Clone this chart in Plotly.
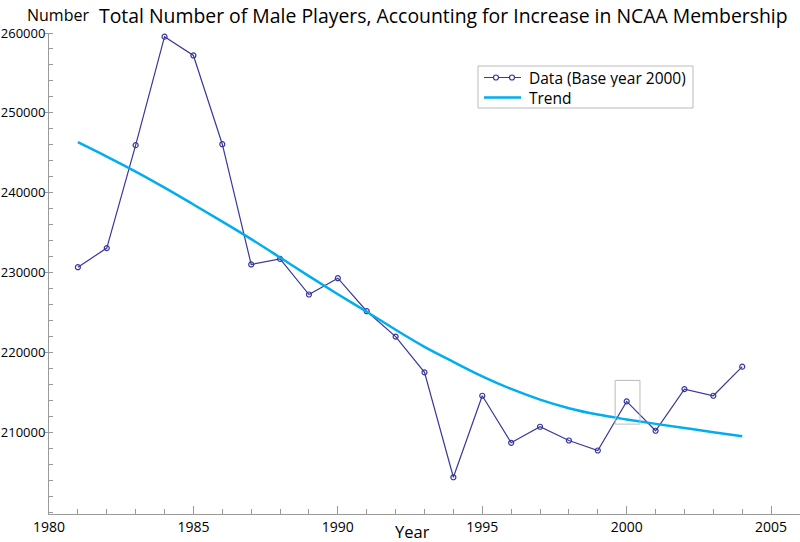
import plotly.graph_objects as go

years = list(range(1981, 2005))
data_values = [230690, 233080, 245960, 259540, 257190, 246080, 231030, 231730,
               227270, 229310, 225180, 222000, 217530, 204400, 214600, 208710,
               210720, 209000, 207750, 213890, 210220, 215430, 214600, 218240]
trend_values = [246340, 244540, 242660, 240650, 238540, 236390, 234200, 231900,
                229570, 227310, 225110, 222860, 220720, 218840, 217030, 215450,
                214120, 213040, 212240, 211630, 211080, 210560, 210040, 209540]
x_ticks = [1980, 1985, 1990, 1995, 2000, 2005]
y_ticks = [210000, 220000, 230000, 240000, 250000, 260000]
series_names = ["Data (Base year 2000)", "Trend"]

FONT = "Open Sans"
DATA_COLOR = "#38389a"
TREND_COLOR = "#00aeef"
AXIS_COLOR = "#9a9a9a"

# plot-area geometry in pixels (for placing the legend box)
L, T, W, H = 49, 33, 751, 481
def px(x):
    return (x - L) / W
def py(y):
    return (T + H - y) / H

fig = go.Figure()
fig.add_trace(go.Scatter(
    x=years, y=data_values, mode="lines+markers", name=series_names[0],
    line=dict(color=DATA_COLOR, width=1.2),
    marker=dict(symbol="circle-open", size=5, color=DATA_COLOR, line=dict(width=1.2)),
    showlegend=False,
))
fig.add_trace(go.Scatter(
    x=years, y=trend_values, mode="lines", name=series_names[1],
    line=dict(color=TREND_COLOR, width=2.5, shape="spline"),
    showlegend=False,
))

shapes = [
    dict(type="rect", x0=1999.6, x1=2000.46, y0=211050, y1=216520,
         line=dict(color="#bbbbbb", width=1), xref="x", yref="y"),
    # legend box
    dict(type="rect", xref="paper", yref="paper", x0=px(478), x1=px(693),
         y0=py(108), y1=py(66), line=dict(color="#bbbbbb", width=1),
         fillcolor="white", layer="above"),
    dict(type="line", xref="paper", yref="paper", x0=px(484), x1=px(521),
         y0=py(77.5), y1=py(77.5), line=dict(color=DATA_COLOR, width=1.2), layer="above"),
    dict(type="line", xref="paper", yref="paper", x0=px(484), x1=px(521),
         y0=py(97.5), y1=py(97.5), line=dict(color=TREND_COLOR, width=2.5), layer="above"),
]
for mx in (496, 512):
    shapes.append(dict(type="circle", xref="paper", yref="paper", xsizemode="pixel",
                       ysizemode="pixel", xanchor=px(mx), yanchor=py(77.5),
                       x0=-2.5, x1=2.5, y0=-2.5, y1=2.5,
                       line=dict(color=DATA_COLOR, width=1.2), fillcolor="white",
                       layer="above"))

fig.update_layout(
    width=800, height=542,
    margin=dict(l=L, r=800 - L - W, t=T, b=542 - T - H, autoexpand=False),
    paper_bgcolor="white", plot_bgcolor="white",
    font=dict(family=FONT, color="black", size=13),
    showlegend=False,
    shapes=shapes,
    xaxis=dict(range=[1980, 2006], tickvals=x_ticks, ticktext=[str(v) for v in x_ticks],
               automargin=False,
               showgrid=False, zeroline=False, showline=True, linecolor=AXIS_COLOR,
               linewidth=1, ticks="inside", ticklen=8, tickcolor=AXIS_COLOR,
               tickfont=dict(size=14, family=FONT),
               minor=dict(dtick=1, ticks="inside", ticklen=5, tickcolor=AXIS_COLOR,
                          showgrid=False)),
    yaxis=dict(range=[199800, 260000], tickvals=y_ticks, ticktext=[str(v) for v in y_ticks],
               automargin=False, ticklabelstandoff=-3,
               showgrid=False, zeroline=False, showline=True, linecolor=AXIS_COLOR,
               linewidth=1, ticks="outside", ticklen=3, tickcolor=AXIS_COLOR,
               tickfont=dict(size=13, family=FONT),
               minor=dict(dtick=2000, ticks="inside", ticklen=4, tickcolor=AXIS_COLOR,
                          showgrid=False)),
    annotations=[
        dict(text="Total Number of Male Players, Accounting for Increase in NCAA Membership",
             xref="paper", yref="paper", x=px(443.5), y=py(15), xanchor="center",
             yanchor="middle", showarrow=False, font=dict(size=19.4, family=FONT)),
        dict(text="Number", xref="paper", yref="paper", x=px(58), y=py(15),
             xanchor="center", yanchor="middle", showarrow=False,
             font=dict(size=16, family=FONT)),
        dict(text="Year", xref="paper", yref="paper", x=px(412), y=py(531),
             xanchor="center", yanchor="middle", showarrow=False, height=18,
             font=dict(size=16.5, family=FONT)),
        dict(text=series_names[0], xref="paper", yref="paper", x=px(527), y=py(77.5),
             xanchor="left", yanchor="middle", showarrow=False, height=19,
             font=dict(size=15.5, family=FONT)),
        dict(text=series_names[1], xref="paper", yref="paper", x=px(527), y=py(98),
             xanchor="left", yanchor="middle", showarrow=False, height=19,
             font=dict(size=15.5, family=FONT)),
    ],
)

fig.write_html("out.html")
